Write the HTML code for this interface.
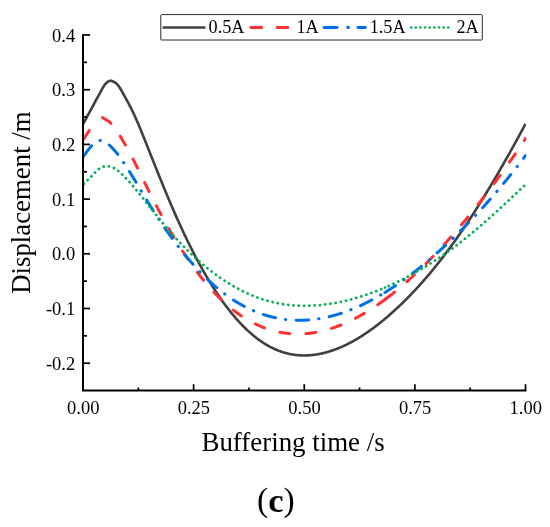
<!DOCTYPE html>
<html><head><meta charset="utf-8"><title>Figure (c)</title>
<style>
html,body{margin:0;padding:0;background:#fff;}
body{width:550px;height:527px;overflow:hidden;}
svg{display:block;}
text{font-family:"Liberation Serif","Times New Roman",serif;fill:#000;}
.tick{font-size:18.5px;}
.lab{font-size:26.8px;}
.leg{font-size:18.2px;}
</style></head><body>
<svg width="550" height="527" viewBox="0 0 550 527">
<rect width="550" height="527" fill="#fff"/>

<defs><clipPath id="pa"><rect x="83" y="20" width="443.3" height="371"/></clipPath></defs>
<g fill="none" stroke-linejoin="round" stroke-linecap="round" clip-path="url(#pa)">
<path d="M83.00,124.19 L83.18,123.86 L83.74,122.85 L84.29,121.83 L84.84,120.82 L85.40,119.80 L85.95,118.78 L86.50,117.76 L87.06,116.73 L87.61,115.71 L88.16,114.69 L88.72,113.66 L89.27,112.64 L89.82,111.62 L90.38,110.60 L90.93,109.58 L91.48,108.56 L92.04,107.55 L92.59,106.53 L93.14,105.52 L93.70,104.50 L94.25,103.49 L94.80,102.47 L95.36,101.46 L95.91,100.44 L96.46,99.43 L97.02,98.41 L97.57,97.40 L98.13,96.38 L98.68,95.36 L99.23,94.34 L99.79,93.31 L100.34,92.29 L100.89,91.26 L101.45,90.23 L102.00,89.21 L102.55,88.21 L103.11,87.25 L103.66,86.33 L104.21,85.49 L104.77,84.72 L105.32,84.04 L105.87,83.43 L106.43,82.89 L106.98,82.41 L107.53,81.99 L108.09,81.62 L108.64,81.30 L109.19,81.05 L109.75,80.87 L110.30,80.78 L110.85,80.78 L111.41,80.87 L111.96,81.03 L112.51,81.25 L113.07,81.50 L113.62,81.78 L114.17,82.06 L114.73,82.37 L115.28,82.72 L115.83,83.10 L116.39,83.55 L116.94,84.06 L117.49,84.65 L118.05,85.32 L118.60,86.05 L119.15,86.85 L119.71,87.69 L120.26,88.58 L120.81,89.50 L121.37,90.45 L121.92,91.42 L122.47,92.41 L123.03,93.40 L123.58,94.39 L124.13,95.38 L124.69,96.37 L125.24,97.36 L125.79,98.36 L126.35,99.36 L126.90,100.37 L127.45,101.38 L128.01,102.40 L128.56,103.43 L129.11,104.48 L129.67,105.53 L130.22,106.60 L130.77,107.68 L131.33,108.78 L131.88,109.90 L132.43,111.03 L132.99,112.18 L133.54,113.35 L134.09,114.54 L134.65,115.74 L135.20,116.96 L135.75,118.19 L136.31,119.44 L136.86,120.70 L137.41,121.98 L137.97,123.27 L138.52,124.56 L139.07,125.87 L139.63,127.19 L140.18,128.52 L140.73,129.86 L141.29,131.21 L141.84,132.56 L142.39,133.93 L142.95,135.29 L143.50,136.67 L144.05,138.05 L144.61,139.43 L145.16,140.82 L145.71,142.21 L146.27,143.60 L146.82,145.00 L147.37,146.39 L147.93,147.79 L148.48,149.18 L149.03,150.58 L149.59,151.98 L150.14,153.37 L150.69,154.77 L151.25,156.16 L151.80,157.55 L152.35,158.94 L152.91,160.33 L153.46,161.72 L154.01,163.11 L154.57,164.50 L155.12,165.88 L155.67,167.27 L156.23,168.65 L156.78,170.03 L157.33,171.41 L157.89,172.79 L158.44,174.16 L158.99,175.53 L159.55,176.90 L160.10,178.27 L160.65,179.63 L161.21,180.99 L161.76,182.35 L162.31,183.71 L162.87,185.06 L163.42,186.41 L163.97,187.76 L164.53,189.10 L165.08,190.44 L165.63,191.78 L166.19,193.11 L166.74,194.44 L167.29,195.77 L167.85,197.09 L168.40,198.41 L168.95,199.72 L169.51,201.03 L170.06,202.33 L170.61,203.63 L171.17,204.93 L171.72,206.22 L172.27,207.51 L172.83,208.79 L173.38,210.06 L173.93,211.34 L174.49,212.60 L175.04,213.86 L175.59,215.12 L176.15,216.37 L176.70,217.61 L177.25,218.85 L177.81,220.08 L178.36,221.31 L178.91,222.53 L179.47,223.75 L180.02,224.96 L180.58,226.17 L181.13,227.37 L181.68,228.56 L182.24,229.75 L182.79,230.94 L183.34,232.12 L183.90,233.29 L184.45,234.46 L185.00,235.62 L185.56,236.78 L186.11,237.93 L186.66,239.07 L187.22,240.21 L187.77,241.35 L188.32,242.48 L188.88,243.60 L189.43,244.72 L189.98,245.83 L190.54,246.94 L191.09,248.04 L191.64,249.13 L192.20,250.22 L192.75,251.31 L193.30,252.39 L193.86,253.46 L194.41,254.53 L194.96,255.59 L195.52,256.65 L196.07,257.70 L196.62,258.74 L197.18,259.78 L197.73,260.82 L198.28,261.84 L198.84,262.87 L199.39,263.88 L199.94,264.89 L200.50,265.90 L201.05,266.90 L201.60,267.89 L202.16,268.88 L202.71,269.86 L203.26,270.84 L203.82,271.81 L204.37,272.78 L204.92,273.74 L205.48,274.69 L206.03,275.64 L206.58,276.58 L207.14,277.52 L207.69,278.45 L208.24,279.38 L208.80,280.30 L209.35,281.21 L209.90,282.12 L210.46,283.02 L211.01,283.92 L211.56,284.81 L212.12,285.70 L212.67,286.58 L213.22,287.45 L213.78,288.32 L214.33,289.18 L214.88,290.03 L215.44,290.88 L215.99,291.73 L216.54,292.57 L217.10,293.40 L217.65,294.23 L218.20,295.05 L218.76,295.86 L219.31,296.67 L219.86,297.48 L220.42,298.28 L220.97,299.07 L221.52,299.86 L222.08,300.64 L222.63,301.41 L223.18,302.18 L223.74,302.94 L224.29,303.70 L224.84,304.45 L225.40,305.20 L225.95,305.94 L226.50,306.67 L227.06,307.40 L227.61,308.13 L228.16,308.84 L228.72,309.56 L229.27,310.26 L229.82,310.96 L230.38,311.66 L230.93,312.35 L231.48,313.03 L232.04,313.71 L232.59,314.38 L233.14,315.04 L233.70,315.70 L234.25,316.36 L234.80,317.01 L235.36,317.65 L235.91,318.29 L236.46,318.92 L237.02,319.55 L237.57,320.17 L238.12,320.78 L238.68,321.39 L239.23,322.00 L239.78,322.59 L240.34,323.19 L240.89,323.77 L241.44,324.35 L242.00,324.93 L242.55,325.50 L243.10,326.06 L243.66,326.62 L244.21,327.17 L244.76,327.72 L245.32,328.26 L245.87,328.80 L246.42,329.33 L246.98,329.85 L247.53,330.37 L248.08,330.89 L248.64,331.39 L249.19,331.90 L249.74,332.39 L250.30,332.88 L250.85,333.37 L251.40,333.85 L251.96,334.33 L252.51,334.79 L253.06,335.26 L253.62,335.72 L254.17,336.17 L254.72,336.61 L255.28,337.06 L255.83,337.49 L256.38,337.92 L256.94,338.35 L257.49,338.76 L258.04,339.18 L258.60,339.59 L259.15,339.99 L259.70,340.39 L260.26,340.78 L260.81,341.16 L261.36,341.54 L261.92,341.92 L262.47,342.29 L263.03,342.65 L263.58,343.01 L264.13,343.36 L264.69,343.71 L265.24,344.05 L265.79,344.39 L266.35,344.72 L266.90,345.04 L267.45,345.36 L268.01,345.68 L268.56,345.99 L269.11,346.29 L269.67,346.59 L270.22,346.89 L270.77,347.17 L271.33,347.46 L271.88,347.73 L272.43,348.01 L272.99,348.27 L273.54,348.53 L274.09,348.79 L274.65,349.04 L275.20,349.29 L275.75,349.53 L276.31,349.77 L276.86,350.00 L277.41,350.22 L277.97,350.44 L278.52,350.66 L279.07,350.87 L279.63,351.08 L280.18,351.28 L280.73,351.47 L281.29,351.66 L281.84,351.85 L282.39,352.03 L282.95,352.21 L283.50,352.38 L284.05,352.54 L284.61,352.71 L285.16,352.86 L285.71,353.01 L286.27,353.16 L286.82,353.30 L287.37,353.44 L287.93,353.58 L288.48,353.70 L289.03,353.83 L289.59,353.95 L290.14,354.06 L290.69,354.17 L291.25,354.27 L291.80,354.37 L292.35,354.47 L292.91,354.56 L293.46,354.65 L294.01,354.73 L294.57,354.81 L295.12,354.88 L295.67,354.95 L296.23,355.01 L296.78,355.07 L297.33,355.13 L297.89,355.18 L298.44,355.23 L298.99,355.27 L299.55,355.31 L300.10,355.34 L300.65,355.37 L301.21,355.40 L301.76,355.42 L302.31,355.43 L302.87,355.45 L303.42,355.45 L303.97,355.46 L304.53,355.46 L305.08,355.45 L305.63,355.44 L306.19,355.43 L306.74,355.42 L307.29,355.39 L307.85,355.37 L308.40,355.34 L308.95,355.31 L309.51,355.27 L310.06,355.23 L310.61,355.19 L311.17,355.14 L311.72,355.08 L312.27,355.03 L312.83,354.97 L313.38,354.90 L313.93,354.83 L314.49,354.76 L315.04,354.69 L315.59,354.61 L316.15,354.52 L316.70,354.44 L317.25,354.34 L317.81,354.25 L318.36,354.15 L318.91,354.05 L319.47,353.94 L320.02,353.83 L320.57,353.72 L321.13,353.61 L321.68,353.48 L322.23,353.36 L322.79,353.23 L323.34,353.10 L323.89,352.97 L324.45,352.83 L325.00,352.69 L325.55,352.54 L326.11,352.40 L326.66,352.24 L327.21,352.09 L327.77,351.93 L328.32,351.77 L328.87,351.60 L329.43,351.43 L329.98,351.26 L330.53,351.09 L331.09,350.91 L331.64,350.73 L332.19,350.54 L332.75,350.35 L333.30,350.16 L333.85,349.96 L334.41,349.76 L334.96,349.56 L335.51,349.36 L336.07,349.15 L336.62,348.94 L337.17,348.72 L337.73,348.50 L338.28,348.28 L338.83,348.05 L339.39,347.83 L339.94,347.59 L340.49,347.36 L341.05,347.12 L341.60,346.88 L342.15,346.64 L342.71,346.39 L343.26,346.14 L343.81,345.88 L344.37,345.63 L344.92,345.37 L345.47,345.10 L346.03,344.84 L346.58,344.57 L347.14,344.30 L347.69,344.02 L348.24,343.74 L348.80,343.46 L349.35,343.18 L349.90,342.89 L350.46,342.60 L351.01,342.30 L351.56,342.01 L352.12,341.71 L352.67,341.40 L353.22,341.10 L353.78,340.79 L354.33,340.48 L354.88,340.16 L355.44,339.84 L355.99,339.52 L356.54,339.20 L357.10,338.87 L357.65,338.54 L358.20,338.21 L358.76,337.88 L359.31,337.54 L359.86,337.20 L360.42,336.85 L360.97,336.51 L361.52,336.16 L362.08,335.80 L362.63,335.45 L363.18,335.09 L363.74,334.73 L364.29,334.37 L364.84,334.00 L365.40,333.63 L365.95,333.26 L366.50,332.88 L367.06,332.51 L367.61,332.13 L368.16,331.74 L368.72,331.36 L369.27,330.97 L369.82,330.58 L370.38,330.18 L370.93,329.79 L371.48,329.39 L372.04,328.99 L372.59,328.58 L373.14,328.17 L373.70,327.76 L374.25,327.35 L374.80,326.94 L375.36,326.52 L375.91,326.10 L376.46,325.67 L377.02,325.25 L377.57,324.82 L378.12,324.39 L378.68,323.96 L379.23,323.52 L379.78,323.08 L380.34,322.64 L380.89,322.20 L381.44,321.75 L382.00,321.31 L382.55,320.85 L383.10,320.40 L383.66,319.95 L384.21,319.49 L384.76,319.03 L385.32,318.56 L385.87,318.10 L386.42,317.63 L386.98,317.16 L387.53,316.69 L388.08,316.21 L388.64,315.73 L389.19,315.25 L389.74,314.77 L390.30,314.29 L390.85,313.80 L391.40,313.31 L391.96,312.82 L392.51,312.32 L393.06,311.83 L393.62,311.33 L394.17,310.83 L394.72,310.32 L395.28,309.82 L395.83,309.31 L396.38,308.80 L396.94,308.29 L397.49,307.77 L398.04,307.25 L398.60,306.73 L399.15,306.21 L399.70,305.68 L400.26,305.16 L400.81,304.63 L401.36,304.10 L401.92,303.56 L402.47,303.02 L403.02,302.48 L403.58,301.94 L404.13,301.40 L404.68,300.85 L405.24,300.30 L405.79,299.75 L406.34,299.20 L406.90,298.64 L407.45,298.08 L408.00,297.52 L408.56,296.96 L409.11,296.39 L409.66,295.82 L410.22,295.25 L410.77,294.68 L411.32,294.10 L411.88,293.53 L412.43,292.95 L412.98,292.36 L413.54,291.78 L414.09,291.19 L414.64,290.60 L415.20,290.01 L415.75,289.41 L416.30,288.81 L416.86,288.21 L417.41,287.61 L417.96,287.00 L418.52,286.40 L419.07,285.79 L419.62,285.17 L420.18,284.56 L420.73,283.94 L421.28,283.32 L421.84,282.70 L422.39,282.07 L422.94,281.45 L423.50,280.82 L424.05,280.19 L424.60,279.55 L425.16,278.91 L425.71,278.27 L426.26,277.63 L426.82,276.99 L427.37,276.34 L427.92,275.69 L428.48,275.04 L429.03,274.38 L429.59,273.72 L430.14,273.06 L430.69,272.40 L431.25,271.74 L431.80,271.07 L432.35,270.40 L432.91,269.73 L433.46,269.05 L434.01,268.37 L434.57,267.69 L435.12,267.01 L435.67,266.33 L436.23,265.64 L436.78,264.95 L437.33,264.26 L437.89,263.56 L438.44,262.86 L438.99,262.16 L439.55,261.46 L440.10,260.75 L440.65,260.05 L441.21,259.34 L441.76,258.62 L442.31,257.91 L442.87,257.19 L443.42,256.47 L443.97,255.74 L444.53,255.02 L445.08,254.29 L445.63,253.56 L446.19,252.83 L446.74,252.09 L447.29,251.35 L447.85,250.61 L448.40,249.86 L448.95,249.12 L449.51,248.37 L450.06,247.62 L450.61,246.86 L451.17,246.11 L451.72,245.35 L452.27,244.58 L452.83,243.82 L453.38,243.05 L453.93,242.28 L454.49,241.51 L455.04,240.73 L455.59,239.96 L456.15,239.18 L456.70,238.39 L457.25,237.61 L457.81,236.82 L458.36,236.03 L458.91,235.23 L459.47,234.44 L460.02,233.64 L460.57,232.84 L461.13,232.04 L461.68,231.23 L462.23,230.42 L462.79,229.61 L463.34,228.80 L463.89,227.98 L464.45,227.16 L465.00,226.34 L465.55,225.52 L466.11,224.69 L466.66,223.86 L467.21,223.03 L467.77,222.20 L468.32,221.37 L468.87,220.53 L469.43,219.69 L469.98,218.85 L470.53,218.00 L471.09,217.15 L471.64,216.30 L472.19,215.45 L472.75,214.60 L473.30,213.74 L473.85,212.88 L474.41,212.02 L474.96,211.16 L475.51,210.29 L476.07,209.42 L476.62,208.55 L477.17,207.68 L477.73,206.81 L478.28,205.93 L478.83,205.05 L479.39,204.17 L479.94,203.28 L480.49,202.40 L481.05,201.51 L481.60,200.62 L482.15,199.73 L482.71,198.83 L483.26,197.94 L483.81,197.04 L484.37,196.14 L484.92,195.23 L485.47,194.33 L486.03,193.42 L486.58,192.51 L487.13,191.60 L487.69,190.69 L488.24,189.77 L488.79,188.86 L489.35,187.94 L489.90,187.01 L490.45,186.09 L491.01,185.16 L491.56,184.24 L492.11,183.31 L492.67,182.38 L493.22,181.44 L493.77,180.51 L494.33,179.57 L494.88,178.63 L495.43,177.69 L495.99,176.74 L496.54,175.80 L497.09,174.85 L497.65,173.90 L498.20,172.95 L498.75,172.00 L499.31,171.04 L499.86,170.09 L500.41,169.13 L500.97,168.17 L501.52,167.21 L502.07,166.24 L502.63,165.28 L503.18,164.31 L503.73,163.34 L504.29,162.37 L504.84,161.39 L505.39,160.42 L505.95,159.44 L506.50,158.46 L507.05,157.48 L507.61,156.50 L508.16,155.52 L508.71,154.53 L509.27,153.55 L509.82,152.56 L510.37,151.57 L510.93,150.58 L511.48,149.58 L512.04,148.59 L512.59,147.59 L513.14,146.59 L513.70,145.59 L514.25,144.59 L514.80,143.59 L515.36,142.58 L515.91,141.57 L516.46,140.57 L517.02,139.56 L517.57,138.54 L518.12,137.53 L518.68,136.52 L519.23,135.50 L519.78,134.48 L520.34,133.46 L520.89,132.44 L521.44,131.42 L522.00,130.40 L522.55,129.37 L523.10,128.35 L523.66,127.32 L524.21,126.29 L524.76,125.26 L525.32,124.22 L525.50,123.88" stroke="#404040" stroke-width="2.6" stroke-linecap="butt"/>
<path d="M83.00,140.28 L83.18,139.95 L83.74,139.00 L84.29,138.09 L84.84,137.19 L85.40,136.32 L85.95,135.47 L86.50,134.63 L87.06,133.79 L87.61,132.96 L88.16,132.14 L88.72,131.30 L89.27,130.46 L89.82,129.61 L90.38,128.74 L90.93,127.85 L91.48,126.96 L92.04,126.07 L92.59,125.18 L93.14,124.31 L93.70,123.46 L94.25,122.64 L94.80,121.85 L95.36,121.10 L95.91,120.39 L96.46,119.74 L97.02,119.15 L97.57,118.63 L98.13,118.18 L98.68,117.80 L99.23,117.50 L99.79,117.29 L100.34,117.17 L100.89,117.14 L101.45,117.21 L102.00,117.38 L102.55,117.61 L103.11,117.90 L103.66,118.23 L104.21,118.57 L104.77,118.92 L105.32,119.26 L105.87,119.60 L106.43,119.94 L106.98,120.28 L107.53,120.61 L108.09,120.96 L108.64,121.33 L109.19,121.73 L109.75,122.19 L110.30,122.72 L110.85,123.33 L111.41,124.02 L111.96,124.76 L112.51,125.53 L113.07,126.31 L113.62,127.08 L114.17,127.81 L114.73,128.53 L115.28,129.23 L115.83,129.94 L116.39,130.65 L116.94,131.38 L117.49,132.14 L118.05,132.92 L118.60,133.74 L119.15,134.57 L119.71,135.43 L120.26,136.30 L120.81,137.20 L121.37,138.10 L121.92,139.02 L122.47,139.96 L123.03,140.90 L123.58,141.84 L124.13,142.80 L124.69,143.76 L125.24,144.72 L125.79,145.70 L126.35,146.68 L126.90,147.66 L127.45,148.66 L128.01,149.66 L128.56,150.67 L129.11,151.68 L129.67,152.71 L130.22,153.74 L130.77,154.78 L131.33,155.82 L131.88,156.87 L132.43,157.93 L132.99,159.00 L133.54,160.08 L134.09,161.16 L134.65,162.25 L135.20,163.34 L135.75,164.44 L136.31,165.55 L136.86,166.66 L137.41,167.77 L137.97,168.89 L138.52,170.01 L139.07,171.13 L139.63,172.26 L140.18,173.38 L140.73,174.51 L141.29,175.65 L141.84,176.78 L142.39,177.91 L142.95,179.05 L143.50,180.18 L144.05,181.31 L144.61,182.44 L145.16,183.57 L145.71,184.70 L146.27,185.83 L146.82,186.95 L147.37,188.07 L147.93,189.19 L148.48,190.31 L149.03,191.42 L149.59,192.52 L150.14,193.63 L150.69,194.73 L151.25,195.82 L151.80,196.91 L152.35,198.00 L152.91,199.08 L153.46,200.16 L154.01,201.24 L154.57,202.31 L155.12,203.38 L155.67,204.44 L156.23,205.50 L156.78,206.56 L157.33,207.61 L157.89,208.66 L158.44,209.70 L158.99,210.74 L159.55,211.78 L160.10,212.81 L160.65,213.84 L161.21,214.86 L161.76,215.88 L162.31,216.90 L162.87,217.91 L163.42,218.92 L163.97,219.92 L164.53,220.92 L165.08,221.91 L165.63,222.90 L166.19,223.89 L166.74,224.87 L167.29,225.85 L167.85,226.82 L168.40,227.79 L168.95,228.76 L169.51,229.72 L170.06,230.68 L170.61,231.63 L171.17,232.58 L171.72,233.52 L172.27,234.46 L172.83,235.39 L173.38,236.32 L173.93,237.25 L174.49,238.17 L175.04,239.09 L175.59,240.00 L176.15,240.91 L176.70,241.81 L177.25,242.71 L177.81,243.61 L178.36,244.50 L178.91,245.38 L179.47,246.27 L180.02,247.14 L180.58,248.02 L181.13,248.88 L181.68,249.75 L182.24,250.61 L182.79,251.46 L183.34,252.31 L183.90,253.16 L184.45,254.00 L185.00,254.84 L185.56,255.67 L186.11,256.50 L186.66,257.32 L187.22,258.14 L187.77,258.95 L188.32,259.76 L188.88,260.57 L189.43,261.37 L189.98,262.16 L190.54,262.95 L191.09,263.74 L191.64,264.52 L192.20,265.30 L192.75,266.07 L193.30,266.84 L193.86,267.61 L194.41,268.36 L194.96,269.12 L195.52,269.87 L196.07,270.62 L196.62,271.36 L197.18,272.09 L197.73,272.82 L198.28,273.55 L198.84,274.27 L199.39,274.99 L199.94,275.70 L200.50,276.41 L201.05,277.12 L201.60,277.82 L202.16,278.51 L202.71,279.20 L203.26,279.89 L203.82,280.57 L204.37,281.24 L204.92,281.91 L205.48,282.58 L206.03,283.24 L206.58,283.90 L207.14,284.55 L207.69,285.20 L208.24,285.84 L208.80,286.48 L209.35,287.12 L209.90,287.74 L210.46,288.37 L211.01,288.99 L211.56,289.60 L212.12,290.21 L212.67,290.82 L213.22,291.42 L213.78,292.02 L214.33,292.61 L214.88,293.19 L215.44,293.78 L215.99,294.35 L216.54,294.92 L217.10,295.49 L217.65,296.05 L218.20,296.61 L218.76,297.17 L219.31,297.71 L219.86,298.26 L220.42,298.80 L220.97,299.33 L221.52,299.86 L222.08,300.39 L222.63,300.91 L223.18,301.43 L223.74,301.94 L224.29,302.45 L224.84,302.95 L225.40,303.45 L225.95,303.94 L226.50,304.43 L227.06,304.91 L227.61,305.39 L228.16,305.87 L228.72,306.34 L229.27,306.81 L229.82,307.27 L230.38,307.73 L230.93,308.18 L231.48,308.63 L232.04,309.07 L232.59,309.51 L233.14,309.95 L233.70,310.38 L234.25,310.81 L234.80,311.23 L235.36,311.65 L235.91,312.06 L236.46,312.47 L237.02,312.88 L237.57,313.28 L238.12,313.68 L238.68,314.07 L239.23,314.46 L239.78,314.84 L240.34,315.22 L240.89,315.60 L241.44,315.97 L242.00,316.34 L242.55,316.70 L243.10,317.06 L243.66,317.42 L244.21,317.77 L244.76,318.11 L245.32,318.46 L245.87,318.79 L246.42,319.13 L246.98,319.46 L247.53,319.79 L248.08,320.11 L248.64,320.43 L249.19,320.74 L249.74,321.05 L250.30,321.36 L250.85,321.66 L251.40,321.96 L251.96,322.25 L252.51,322.54 L253.06,322.83 L253.62,323.11 L254.17,323.39 L254.72,323.67 L255.28,323.94 L255.83,324.20 L256.38,324.47 L256.94,324.73 L257.49,324.98 L258.04,325.23 L258.60,325.48 L259.15,325.73 L259.70,325.97 L260.26,326.20 L260.81,326.44 L261.36,326.66 L261.92,326.89 L262.47,327.11 L263.03,327.33 L263.58,327.54 L264.13,327.75 L264.69,327.96 L265.24,328.16 L265.79,328.36 L266.35,328.56 L266.90,328.75 L267.45,328.94 L268.01,329.12 L268.56,329.31 L269.11,329.48 L269.67,329.66 L270.22,329.83 L270.77,330.00 L271.33,330.16 L271.88,330.32 L272.43,330.48 L272.99,330.63 L273.54,330.78 L274.09,330.92 L274.65,331.06 L275.20,331.20 L275.75,331.34 L276.31,331.47 L276.86,331.60 L277.41,331.72 L277.97,331.84 L278.52,331.96 L279.07,332.08 L279.63,332.19 L280.18,332.29 L280.73,332.40 L281.29,332.50 L281.84,332.60 L282.39,332.69 L282.95,332.78 L283.50,332.87 L284.05,332.95 L284.61,333.03 L285.16,333.11 L285.71,333.18 L286.27,333.25 L286.82,333.32 L287.37,333.38 L287.93,333.44 L288.48,333.50 L289.03,333.55 L289.59,333.60 L290.14,333.65 L290.69,333.69 L291.25,333.73 L291.80,333.77 L292.35,333.80 L292.91,333.83 L293.46,333.86 L294.01,333.88 L294.57,333.90 L295.12,333.92 L295.67,333.93 L296.23,333.95 L296.78,333.95 L297.33,333.96 L297.89,333.96 L298.44,333.96 L298.99,333.95 L299.55,333.94 L300.10,333.93 L300.65,333.92 L301.21,333.90 L301.76,333.88 L302.31,333.86 L302.87,333.83 L303.42,333.80 L303.97,333.77 L304.53,333.73 L305.08,333.69 L305.63,333.65 L306.19,333.61 L306.74,333.56 L307.29,333.51 L307.85,333.45 L308.40,333.39 L308.95,333.33 L309.51,333.27 L310.06,333.20 L310.61,333.13 L311.17,333.06 L311.72,332.99 L312.27,332.91 L312.83,332.83 L313.38,332.74 L313.93,332.66 L314.49,332.56 L315.04,332.47 L315.59,332.38 L316.15,332.28 L316.70,332.18 L317.25,332.07 L317.81,331.96 L318.36,331.85 L318.91,331.74 L319.47,331.62 L320.02,331.50 L320.57,331.38 L321.13,331.26 L321.68,331.13 L322.23,331.00 L322.79,330.87 L323.34,330.73 L323.89,330.59 L324.45,330.45 L325.00,330.30 L325.55,330.16 L326.11,330.01 L326.66,329.85 L327.21,329.70 L327.77,329.54 L328.32,329.38 L328.87,329.22 L329.43,329.05 L329.98,328.88 L330.53,328.71 L331.09,328.53 L331.64,328.36 L332.19,328.18 L332.75,327.99 L333.30,327.81 L333.85,327.62 L334.41,327.43 L334.96,327.24 L335.51,327.04 L336.07,326.84 L336.62,326.64 L337.17,326.44 L337.73,326.23 L338.28,326.02 L338.83,325.81 L339.39,325.59 L339.94,325.38 L340.49,325.16 L341.05,324.93 L341.60,324.71 L342.15,324.48 L342.71,324.25 L343.26,324.02 L343.81,323.78 L344.37,323.55 L344.92,323.31 L345.47,323.06 L346.03,322.82 L346.58,322.57 L347.14,322.32 L347.69,322.07 L348.24,321.81 L348.80,321.55 L349.35,321.29 L349.90,321.03 L350.46,320.76 L351.01,320.49 L351.56,320.22 L352.12,319.95 L352.67,319.67 L353.22,319.40 L353.78,319.12 L354.33,318.83 L354.88,318.55 L355.44,318.26 L355.99,317.97 L356.54,317.68 L357.10,317.38 L357.65,317.08 L358.20,316.78 L358.76,316.48 L359.31,316.18 L359.86,315.87 L360.42,315.56 L360.97,315.25 L361.52,314.93 L362.08,314.62 L362.63,314.30 L363.18,313.98 L363.74,313.65 L364.29,313.33 L364.84,313.00 L365.40,312.67 L365.95,312.33 L366.50,312.00 L367.06,311.66 L367.61,311.32 L368.16,310.98 L368.72,310.63 L369.27,310.29 L369.82,309.94 L370.38,309.59 L370.93,309.23 L371.48,308.88 L372.04,308.52 L372.59,308.16 L373.14,307.80 L373.70,307.43 L374.25,307.06 L374.80,306.69 L375.36,306.32 L375.91,305.95 L376.46,305.57 L377.02,305.19 L377.57,304.81 L378.12,304.43 L378.68,304.05 L379.23,303.66 L379.78,303.27 L380.34,302.88 L380.89,302.48 L381.44,302.09 L382.00,301.69 L382.55,301.29 L383.10,300.89 L383.66,300.48 L384.21,300.08 L384.76,299.67 L385.32,299.26 L385.41,299.19" stroke="#ff3030" stroke-width="3.0" stroke-dasharray="11.50 20.20 10.00 16.10 10.00 16.10 10.00 16.10 10.00 16.10 10.00 16.10 10.00 16.10 10.00 16.10 10.00 16.10 10.00 16.10 10.00 16.10 10.00 16.10 10.00 16.10 10.00 16.10 10.00 16.10 10.00 16.10 9.40 50.00"/>
<path d="M385.41,299.19 L385.50,299.12 L386.05,298.71 L386.61,298.29 L387.16,297.87 L387.71,297.45 L388.27,297.03 L388.82,296.61 L389.37,296.18 L389.93,295.75 L390.48,295.32 L391.03,294.89 L391.59,294.46 L392.14,294.02 L392.69,293.58 L393.25,293.14 L393.80,292.70 L394.35,292.26 L394.91,291.81 L395.46,291.36 L396.01,290.91 L396.57,290.46 L397.12,290.00 L397.67,289.55 L398.23,289.09 L398.78,288.63 L399.33,288.17 L399.89,287.70 L400.44,287.24 L400.99,286.77 L401.55,286.30 L402.10,285.83 L402.66,285.35 L403.21,284.88 L403.76,284.40 L404.32,283.92 L404.87,283.44 L405.42,282.95 L405.98,282.47 L406.53,281.98 L407.08,281.49 L407.64,281.00 L408.19,280.51 L408.74,280.01 L409.30,279.51 L409.85,279.01 L410.40,278.51 L410.96,278.01 L411.51,277.51 L412.06,277.00 L412.62,276.49 L413.17,275.98 L413.72,275.47 L414.28,274.96 L414.83,274.44 L415.38,273.92 L415.94,273.40 L416.49,272.88 L417.04,272.36 L417.60,271.83 L418.15,271.31 L418.70,270.78 L419.26,270.25 L419.81,269.72 L420.36,269.18 L420.92,268.65 L421.47,268.11 L422.02,267.57 L422.58,267.03 L423.13,266.49 L423.68,265.94 L424.24,265.39 L424.79,264.85 L425.34,264.30 L425.90,263.75 L426.45,263.19 L427.00,262.64 L427.56,262.08 L428.11,261.52 L428.66,260.96 L429.22,260.40 L429.77,259.84 L430.32,259.27 L430.88,258.70 L431.43,258.13 L431.98,257.56 L432.54,256.99 L433.09,256.42 L433.64,255.84 L434.20,255.26 L434.75,254.69 L435.30,254.11 L435.86,253.52 L436.41,252.94 L436.96,252.35 L437.52,251.77 L438.07,251.18 L438.62,250.59 L439.18,250.00 L439.73,249.40 L440.28,248.81 L440.84,248.21 L441.39,247.61 L441.94,247.01 L442.50,246.41 L443.05,245.81 L443.60,245.20 L444.16,244.59 L444.71,243.99 L445.26,243.38 L445.82,242.76 L446.37,242.15 L446.92,241.54 L447.48,240.92 L448.03,240.30 L448.58,239.68 L449.14,239.06 L449.69,238.44 L450.24,237.82 L450.80,237.19 L451.35,236.57 L451.90,235.94 L452.46,235.31 L453.01,234.68 L453.56,234.04 L454.12,233.41 L454.67,232.77 L455.22,232.14 L455.78,231.50 L456.33,230.86 L456.88,230.21 L457.44,229.57 L457.99,228.93 L458.54,228.28 L459.10,227.63 L459.65,226.98 L460.20,226.33 L460.76,225.68 L461.31,225.03 L461.86,224.37 L462.42,223.71 L462.97,223.06 L463.52,222.40 L464.08,221.73 L464.63,221.07 L465.18,220.41 L465.74,219.74 L466.29,219.07 L466.84,218.40 L467.40,217.73 L467.95,217.06 L468.50,216.39 L469.06,215.71 L469.61,215.04 L470.16,214.36 L470.72,213.68 L471.27,213.00 L471.82,212.32 L472.38,211.63 L472.93,210.95 L473.48,210.26 L474.04,209.57 L474.59,208.88 L475.14,208.19 L475.70,207.49 L476.25,206.80 L476.80,206.10 L477.36,205.40 L477.91,204.71 L478.46,204.00 L479.02,203.30 L479.57,202.60 L480.12,201.89 L480.68,201.18 L481.23,200.48 L481.78,199.77 L482.34,199.05 L482.89,198.34 L483.44,197.63 L484.00,196.91 L484.55,196.19 L485.11,195.47 L485.66,194.75 L486.21,194.03 L486.77,193.30 L487.32,192.58 L487.87,191.85 L488.43,191.12 L488.98,190.39 L489.53,189.66 L490.09,188.92 L490.64,188.19 L491.19,187.45 L491.75,186.71 L492.30,185.97 L492.85,185.23 L493.41,184.49 L493.96,183.74 L494.51,183.00 L495.07,182.25 L495.62,181.50 L496.17,180.75 L496.73,180.00 L497.28,179.24 L497.83,178.49 L498.39,177.73 L498.94,176.97 L499.49,176.21 L500.05,175.45 L500.60,174.68 L501.15,173.92 L501.71,173.15 L502.26,172.38 L502.81,171.61 L503.37,170.84 L503.92,170.07 L504.47,169.29 L505.03,168.52 L505.58,167.74 L506.13,166.96 L506.69,166.18 L507.24,165.39 L507.79,164.61 L508.35,163.82 L508.90,163.04 L509.45,162.25 L510.01,161.46 L510.56,160.66 L511.11,159.87 L511.67,159.07 L512.22,158.28 L512.77,157.48 L513.33,156.68 L513.88,155.87 L514.43,155.07 L514.99,154.27 L515.54,153.46 L516.09,152.65 L516.65,151.84 L517.20,151.03 L517.75,150.21 L518.31,149.40 L518.86,148.58 L519.41,147.76 L519.97,146.94 L520.52,146.12 L521.07,145.30 L521.63,144.47 L522.18,143.65 L522.73,142.82 L523.29,141.99 L523.84,141.16 L524.39,140.32 L524.95,139.49 L525.50,138.65" stroke="#ff3030" stroke-width="3.0" stroke-dasharray="11.50 16.30 10.00 16.30 10.00 16.30 10.00 16.30 10.00 16.30 10.00 16.30 10.00 16.30 10.00 16.30 2.12 50.00"/>
<path d="M83.00,156.96 L83.18,156.72 L83.74,155.98 L84.29,155.24 L84.84,154.48 L85.40,153.73 L85.95,152.97 L86.50,152.22 L87.06,151.47 L87.61,150.73 L88.16,150.00 L88.72,149.28 L89.27,148.58 L89.82,147.90 L90.38,147.25 L90.93,146.61 L91.48,146.01 L92.04,145.43 L92.59,144.87 L93.14,144.35 L93.70,143.85 L94.25,143.38 L94.80,142.94 L95.36,142.52 L95.91,142.14 L96.46,141.80 L97.02,141.48 L97.57,141.21 L98.13,140.97 L98.68,140.77 L99.23,140.62 L99.79,140.52 L100.34,140.47 L100.89,140.47 L101.45,140.53 L102.00,140.64 L102.55,140.80 L103.11,141.00 L103.66,141.22 L104.21,141.48 L104.77,141.76 L105.32,142.06 L105.87,142.38 L106.43,142.73 L106.98,143.11 L107.53,143.52 L108.09,143.96 L108.64,144.44 L109.19,144.94 L109.75,145.46 L110.30,146.00 L110.85,146.56 L111.41,147.12 L111.96,147.70 L112.51,148.28 L113.07,148.87 L113.62,149.47 L114.17,150.07 L114.73,150.67 L115.28,151.29 L115.83,151.92 L116.39,152.56 L116.94,153.23 L117.49,153.91 L118.05,154.61 L118.60,155.34 L119.15,156.08 L119.71,156.83 L120.26,157.60 L120.81,158.39 L121.37,159.18 L121.92,159.99 L122.47,160.80 L123.03,161.62 L123.58,162.45 L124.13,163.29 L124.69,164.13 L125.24,164.97 L125.79,165.82 L126.35,166.68 L126.90,167.54 L127.45,168.41 L128.01,169.28 L128.56,170.16 L129.11,171.04 L129.67,171.92 L130.22,172.81 L130.77,173.70 L131.33,174.60 L131.88,175.50 L132.43,176.40 L132.99,177.31 L133.54,178.22 L134.09,179.13 L134.65,180.05 L135.20,180.97 L135.75,181.89 L136.31,182.81 L136.86,183.73 L137.41,184.66 L137.97,185.58 L138.52,186.51 L139.07,187.44 L139.63,188.36 L140.18,189.29 L140.73,190.22 L141.29,191.15 L141.84,192.07 L142.39,193.00 L142.95,193.92 L143.50,194.85 L144.05,195.77 L144.61,196.69 L145.16,197.61 L145.71,198.52 L146.27,199.44 L146.82,200.35 L147.37,201.25 L147.93,202.16 L148.48,203.06 L149.03,203.96 L149.59,204.85 L150.14,205.74 L150.69,206.63 L151.25,207.51 L151.80,208.39 L152.35,209.26 L152.91,210.14 L153.46,211.00 L154.01,211.87 L154.57,212.73 L155.12,213.59 L155.67,214.44 L156.23,215.29 L156.78,216.14 L157.33,216.99 L157.89,217.83 L158.44,218.66 L158.99,219.50 L159.55,220.33 L160.10,221.16 L160.65,221.98 L161.21,222.80 L161.76,223.62 L162.31,224.43 L162.87,225.24 L163.42,226.05 L163.97,226.85 L164.53,227.65 L165.08,228.44 L165.63,229.24 L166.19,230.03 L166.74,230.81 L167.29,231.59 L167.85,232.37 L168.40,233.15 L168.95,233.92 L169.51,234.69 L170.06,235.46 L170.61,236.22 L171.17,236.98 L171.72,237.73 L172.27,238.49 L172.83,239.24 L173.38,239.98 L173.93,240.72 L174.49,241.46 L175.04,242.20 L175.59,242.93 L176.15,243.66 L176.70,244.39 L177.25,245.11 L177.81,245.83 L178.36,246.54 L178.91,247.26 L179.47,247.96 L180.02,248.67 L180.58,249.37 L181.13,250.07 L181.68,250.77 L182.24,251.46 L182.79,252.15 L183.34,252.83 L183.90,253.52 L184.45,254.19 L185.00,254.87 L185.56,255.54 L186.11,256.21 L186.66,256.87 L187.22,257.54 L187.77,258.19 L188.32,258.85 L188.88,259.50 L189.43,260.15 L189.98,260.79 L190.54,261.43 L191.09,262.07 L191.64,262.70 L192.20,263.33 L192.75,263.96 L193.30,264.58 L193.86,265.20 L194.41,265.82 L194.96,266.43 L195.52,267.04 L196.07,267.64 L196.62,268.25 L197.18,268.84 L197.73,269.44 L198.28,270.03 L198.84,270.62 L199.39,271.20 L199.94,271.78 L200.50,272.36 L201.05,272.93 L201.60,273.50 L202.16,274.07 L202.71,274.63 L203.26,275.19 L203.82,275.74 L204.37,276.29 L204.92,276.84 L205.48,277.38 L206.03,277.92 L206.58,278.46 L207.14,278.99 L207.69,279.52 L208.24,280.05 L208.80,280.57 L209.35,281.09 L209.90,281.60 L210.46,282.11 L211.01,282.62 L211.56,283.12 L212.12,283.62 L212.67,284.12 L213.22,284.61 L213.78,285.10 L214.33,285.58 L214.88,286.06 L215.44,286.54 L215.99,287.01 L216.54,287.48 L217.10,287.94 L217.65,288.41 L218.20,288.86 L218.76,289.32 L219.31,289.77 L219.86,290.21 L220.42,290.66 L220.97,291.10 L221.52,291.53 L222.08,291.96 L222.63,292.39 L223.18,292.82 L223.74,293.24 L224.29,293.65 L224.84,294.07 L225.40,294.48 L225.95,294.88 L226.50,295.29 L227.06,295.68 L227.61,296.08 L228.16,296.47 L228.72,296.86 L229.27,297.25 L229.82,297.63 L230.38,298.00 L230.93,298.38 L231.48,298.75 L232.04,299.12 L232.59,299.48 L233.14,299.84 L233.70,300.20 L234.25,300.55 L234.80,300.90 L235.36,301.24 L235.91,301.59 L236.46,301.93 L237.02,302.26 L237.57,302.60 L238.12,302.92 L238.68,303.25 L239.23,303.57 L239.78,303.89 L240.34,304.21 L240.89,304.52 L241.44,304.83 L242.00,305.13 L242.55,305.43 L243.10,305.73 L243.66,306.03 L244.21,306.32 L244.76,306.61 L245.32,306.90 L245.87,307.18 L246.42,307.46 L246.98,307.73 L247.53,308.01 L248.08,308.27 L248.64,308.54 L249.19,308.80 L249.74,309.06 L250.30,309.32 L250.85,309.57 L251.40,309.82 L251.96,310.07 L252.51,310.31 L253.06,310.55 L253.62,310.79 L254.17,311.03 L254.72,311.26 L255.28,311.48 L255.83,311.71 L256.38,311.93 L256.94,312.15 L257.49,312.37 L258.04,312.58 L258.60,312.79 L259.15,312.99 L259.70,313.20 L260.26,313.40 L260.81,313.59 L261.36,313.79 L261.92,313.98 L262.47,314.17 L263.03,314.35 L263.58,314.54 L264.13,314.72 L264.69,314.89 L265.24,315.07 L265.79,315.24 L266.35,315.40 L266.90,315.57 L267.45,315.73 L268.01,315.89 L268.56,316.05 L269.11,316.20 L269.67,316.35 L270.22,316.50 L270.77,316.64 L271.33,316.78 L271.88,316.92 L272.43,317.06 L272.99,317.19 L273.54,317.32 L274.09,317.45 L274.65,317.57 L275.20,317.69 L275.75,317.81 L276.31,317.93 L276.86,318.04 L277.41,318.15 L277.97,318.26 L278.52,318.36 L279.07,318.46 L279.63,318.56 L280.18,318.66 L280.73,318.75 L281.29,318.84 L281.84,318.93 L282.39,319.01 L282.95,319.09 L283.50,319.17 L284.05,319.25 L284.61,319.32 L285.16,319.39 L285.71,319.46 L286.27,319.53 L286.82,319.59 L287.37,319.65 L287.93,319.71 L288.48,319.76 L289.03,319.81 L289.59,319.86 L290.14,319.91 L290.69,319.95 L291.25,319.99 L291.80,320.03 L292.35,320.07 L292.91,320.10 L293.46,320.13 L294.01,320.16 L294.57,320.18 L295.12,320.21 L295.67,320.23 L296.23,320.24 L296.78,320.26 L297.33,320.27 L297.89,320.28 L298.44,320.28 L298.99,320.29 L299.55,320.29 L300.10,320.29 L300.65,320.28 L301.21,320.28 L301.76,320.27 L302.31,320.26 L302.87,320.24 L303.42,320.22 L303.97,320.20 L304.53,320.18 L305.08,320.16 L305.63,320.13 L306.19,320.10 L306.74,320.07 L307.29,320.03 L307.85,320.00 L308.40,319.96 L308.95,319.91 L309.51,319.87 L310.06,319.82 L310.61,319.77 L311.17,319.72 L311.72,319.66 L312.27,319.60 L312.83,319.54 L313.38,319.48 L313.93,319.42 L314.49,319.35 L315.04,319.28 L315.59,319.21 L316.15,319.13 L316.70,319.05 L317.25,318.97 L317.81,318.89 L318.36,318.81 L318.91,318.72 L319.47,318.63 L320.02,318.54 L320.57,318.44 L321.13,318.35 L321.68,318.25 L322.23,318.15 L322.79,318.04 L323.34,317.93 L323.89,317.83 L324.45,317.71 L325.00,317.60 L325.55,317.48 L326.11,317.37 L326.66,317.25 L327.21,317.12 L327.77,317.00 L328.32,316.87 L328.87,316.74 L329.43,316.61 L329.98,316.47 L330.53,316.33 L331.09,316.20 L331.64,316.05 L332.19,315.91 L332.75,315.76 L333.30,315.61 L333.85,315.46 L334.41,315.31 L334.96,315.15 L335.51,315.00 L336.07,314.84 L336.62,314.67 L337.17,314.51 L337.73,314.34 L338.28,314.17 L338.83,314.00 L339.39,313.83 L339.94,313.65 L340.49,313.48 L341.05,313.30 L341.60,313.11 L342.15,312.93 L342.71,312.74 L343.26,312.55 L343.81,312.36 L344.37,312.17 L344.92,311.97 L345.47,311.78 L346.03,311.58 L346.58,311.37 L347.14,311.17 L347.69,310.96 L348.24,310.75 L348.80,310.54 L349.35,310.33 L349.90,310.12 L350.46,309.90 L351.01,309.68 L351.56,309.46 L352.12,309.24 L352.67,309.01 L353.22,308.78 L353.78,308.55 L354.33,308.32 L354.88,308.09 L355.44,307.85 L355.99,307.61 L356.54,307.37 L357.10,307.13 L357.65,306.89 L358.20,306.64 L358.76,306.39 L359.31,306.14 L359.86,305.89 L360.42,305.64 L360.97,305.38 L361.52,305.12 L362.08,304.86 L362.63,304.60 L363.18,304.33 L363.74,304.07 L364.29,303.80 L364.84,303.53 L365.40,303.26 L365.95,302.98 L366.50,302.71 L367.06,302.43 L367.61,302.15 L368.16,301.87 L368.72,301.58 L369.27,301.30 L369.82,301.01 L370.38,300.72 L370.93,300.43 L371.48,300.13 L372.04,299.84 L372.59,299.54 L373.14,299.24 L373.70,298.94 L374.25,298.64 L374.80,298.33 L375.36,298.03 L375.91,297.72 L376.46,297.41 L377.02,297.09 L377.57,296.78 L378.12,296.46 L378.68,296.15 L379.23,295.83 L379.78,295.50 L380.34,295.18 L380.89,294.86 L381.44,294.53 L382.00,294.20 L382.55,293.87 L383.10,293.54 L383.66,293.20 L384.21,292.87 L384.76,292.53 L384.80,292.50" stroke="#0070e8" stroke-width="3.0" stroke-dasharray="0.00 1.50 12.60 10.00 0.40 10.35 12.60 10.00 0.40 10.35 12.60 10.00 0.40 10.35 12.60 10.00 0.40 10.35 12.60 10.00 0.40 10.35 12.60 10.00 0.40 10.35 12.60 10.00 0.40 10.35 12.60 10.00 0.40 10.35 12.60 10.00 0.40 10.35 12.60 10.00 0.40 10.35 12.60 10.00 0.40 10.35 12.60 10.00 0.40 54.55"/>
<path d="M384.80,292.50 L384.95,292.42 L385.50,292.08 L386.05,291.73 L386.61,291.39 L387.16,291.04 L387.71,290.70 L388.27,290.35 L388.82,290.00 L389.37,289.65 L389.93,289.29 L390.48,288.94 L391.03,288.58 L391.59,288.22 L392.14,287.86 L392.69,287.50 L393.25,287.13 L393.80,286.76 L394.35,286.40 L394.91,286.03 L395.46,285.66 L396.01,285.28 L396.57,284.91 L397.12,284.53 L397.67,284.15 L398.23,283.77 L398.78,283.39 L399.33,283.01 L399.89,282.63 L400.44,282.24 L400.99,281.85 L401.55,281.46 L402.10,281.07 L402.66,280.68 L403.21,280.28 L403.76,279.89 L404.32,279.49 L404.87,279.09 L405.42,278.69 L405.98,278.28 L406.53,277.88 L407.08,277.47 L407.64,277.06 L408.19,276.66 L408.74,276.24 L409.30,275.83 L409.85,275.42 L410.40,275.00 L410.96,274.58 L411.51,274.16 L412.06,273.74 L412.62,273.32 L413.17,272.90 L413.72,272.47 L414.28,272.04 L414.83,271.61 L415.38,271.18 L415.94,270.75 L416.49,270.32 L417.04,269.88 L417.60,269.45 L418.15,269.01 L418.70,268.57 L419.26,268.13 L419.81,267.68 L420.36,267.24 L420.92,266.79 L421.47,266.34 L422.02,265.89 L422.58,265.44 L423.13,264.99 L423.68,264.53 L424.24,264.08 L424.79,263.62 L425.34,263.16 L425.90,262.70 L426.45,262.24 L427.00,261.78 L427.56,261.31 L428.11,260.84 L428.66,260.38 L429.22,259.91 L429.77,259.44 L430.32,258.96 L430.88,258.49 L431.43,258.01 L431.98,257.53 L432.54,257.06 L433.09,256.58 L433.64,256.09 L434.20,255.61 L434.75,255.13 L435.30,254.64 L435.86,254.15 L436.41,253.66 L436.96,253.17 L437.52,252.68 L438.07,252.18 L438.62,251.69 L439.18,251.19 L439.73,250.69 L440.28,250.19 L440.84,249.69 L441.39,249.19 L441.94,248.68 L442.50,248.18 L443.05,247.67 L443.60,247.16 L444.16,246.65 L444.71,246.14 L445.26,245.63 L445.82,245.11 L446.37,244.60 L446.92,244.08 L447.48,243.56 L448.03,243.04 L448.58,242.52 L449.14,241.99 L449.69,241.47 L450.24,240.94 L450.80,240.42 L451.35,239.89 L451.90,239.36 L452.46,238.82 L453.01,238.29 L453.56,237.76 L454.12,237.22 L454.67,236.68 L455.22,236.14 L455.78,235.60 L456.33,235.06 L456.88,234.52 L457.44,233.97 L457.99,233.43 L458.54,232.88 L459.10,232.33 L459.65,231.78 L460.20,231.23 L460.76,230.68 L461.31,230.12 L461.86,229.57 L462.42,229.01 L462.97,228.45 L463.52,227.89 L464.08,227.33 L464.63,226.76 L465.18,226.20 L465.74,225.63 L466.29,225.07 L466.84,224.50 L467.40,223.93 L467.95,223.36 L468.50,222.78 L469.06,222.21 L469.61,221.63 L470.16,221.05 L470.72,220.48 L471.27,219.89 L471.82,219.31 L472.38,218.73 L472.93,218.14 L473.48,217.56 L474.04,216.97 L474.59,216.38 L475.14,215.79 L475.70,215.20 L476.25,214.60 L476.80,214.01 L477.36,213.41 L477.91,212.81 L478.46,212.22 L479.02,211.61 L479.57,211.01 L480.12,210.41 L480.68,209.80 L481.23,209.20 L481.78,208.59 L482.34,207.98 L482.89,207.37 L483.44,206.75 L484.00,206.14 L484.55,205.52 L485.11,204.91 L485.66,204.29 L486.21,203.67 L486.77,203.04 L487.32,202.42 L487.87,201.80 L488.43,201.17 L488.98,200.54 L489.53,199.91 L490.09,199.28 L490.64,198.65 L491.19,198.02 L491.75,197.38 L492.30,196.74 L492.85,196.10 L493.41,195.46 L493.96,194.82 L494.51,194.18 L495.07,193.54 L495.62,192.89 L496.17,192.24 L496.73,191.59 L497.28,190.94 L497.83,190.29 L498.39,189.64 L498.94,188.98 L499.49,188.33 L500.05,187.67 L500.60,187.01 L501.15,186.35 L501.71,185.68 L502.26,185.02 L502.81,184.35 L503.37,183.69 L503.92,183.02 L504.47,182.35 L505.03,181.67 L505.58,181.00 L506.13,180.32 L506.69,179.65 L507.24,178.97 L507.79,178.29 L508.35,177.61 L508.90,176.92 L509.45,176.24 L510.01,175.55 L510.56,174.87 L511.11,174.18 L511.67,173.49 L512.22,172.79 L512.77,172.10 L513.33,171.40 L513.88,170.71 L514.43,170.01 L514.99,169.31 L515.54,168.61 L516.09,167.90 L516.65,167.20 L517.20,166.49 L517.75,165.78 L518.31,165.07 L518.86,164.36 L519.41,163.65 L519.97,162.93 L520.52,162.22 L521.07,161.50 L521.63,160.78 L522.18,160.06 L522.73,159.34 L523.29,158.61 L523.84,157.89 L524.39,157.16 L524.95,156.43 L525.50,155.70" stroke="#0070e8" stroke-width="3.0" stroke-dasharray="0.00 1.50 11.40 10.10 0.40 10.20 11.40 10.10 0.40 10.20 11.40 10.10 0.40 10.20 11.40 10.10 0.40 10.20 11.40 10.10 0.40 10.20 11.40 10.10 0.40 10.20 3.20 50.00"/>
<path d="M83.00,184.89 L83.18,184.67 L83.74,184.05 L84.29,183.44 L84.84,182.86 L85.40,182.30 L85.95,181.75 L86.50,181.21 L87.06,180.68 L87.61,180.15 L88.16,179.62 L88.72,179.09 L89.27,178.55 L89.82,178.00 L90.38,177.44 L90.93,176.86 L91.48,176.27 L92.04,175.68 L92.59,175.08 L93.14,174.48 L93.70,173.89 L94.25,173.29 L94.80,172.71 L95.36,172.13 L95.91,171.57 L96.46,171.03 L97.02,170.50 L97.57,170.00 L98.13,169.52 L98.68,169.07 L99.23,168.66 L99.79,168.28 L100.34,167.94 L100.89,167.64 L101.45,167.38 L102.00,167.17 L102.55,166.99 L103.11,166.83 L103.66,166.69 L104.21,166.56 L104.77,166.44 L105.32,166.32 L105.87,166.23 L106.43,166.15 L106.98,166.12 L107.53,166.14 L108.09,166.22 L108.64,166.34 L109.19,166.50 L109.75,166.67 L110.30,166.85 L110.85,167.02 L111.41,167.18 L111.96,167.34 L112.51,167.52 L113.07,167.71 L113.62,167.93 L114.17,168.19 L114.73,168.49 L115.28,168.81 L115.83,169.16 L116.39,169.54 L116.94,169.93 L117.49,170.35 L118.05,170.78 L118.60,171.22 L119.15,171.68 L119.71,172.16 L120.26,172.64 L120.81,173.14 L121.37,173.65 L121.92,174.17 L122.47,174.70 L123.03,175.24 L123.58,175.78 L124.13,176.34 L124.69,176.90 L125.24,177.46 L125.79,178.04 L126.35,178.62 L126.90,179.20 L127.45,179.80 L128.01,180.40 L128.56,181.00 L129.11,181.61 L129.67,182.23 L130.22,182.85 L130.77,183.48 L131.33,184.11 L131.88,184.75 L132.43,185.39 L132.99,186.03 L133.54,186.68 L134.09,187.34 L134.65,187.99 L135.20,188.65 L135.75,189.32 L136.31,189.99 L136.86,190.66 L137.41,191.33 L137.97,192.01 L138.52,192.69 L139.07,193.37 L139.63,194.06 L140.18,194.74 L140.73,195.43 L141.29,196.12 L141.84,196.82 L142.39,197.51 L142.95,198.21 L143.50,198.90 L144.05,199.60 L144.61,200.30 L145.16,201.00 L145.71,201.70 L146.27,202.40 L146.82,203.10 L147.37,203.80 L147.93,204.50 L148.48,205.20 L149.03,205.90 L149.59,206.60 L150.14,207.29 L150.69,207.99 L151.25,208.69 L151.80,209.38 L152.35,210.08 L152.91,210.77 L153.46,211.47 L154.01,212.16 L154.57,212.85 L155.12,213.54 L155.67,214.23 L156.23,214.92 L156.78,215.61 L157.33,216.30 L157.89,216.98 L158.44,217.66 L158.99,218.35 L159.55,219.03 L160.10,219.71 L160.65,220.38 L161.21,221.06 L161.76,221.73 L162.31,222.41 L162.87,223.08 L163.42,223.75 L163.97,224.41 L164.53,225.08 L165.08,225.74 L165.63,226.40 L166.19,227.06 L166.74,227.72 L167.29,228.37 L167.85,229.02 L168.40,229.67 L168.95,230.32 L169.51,230.97 L170.06,231.61 L170.61,232.25 L171.17,232.88 L171.72,233.52 L172.27,234.15 L172.83,234.78 L173.38,235.40 L173.93,236.03 L174.49,236.65 L175.04,237.26 L175.59,237.88 L176.15,238.49 L176.70,239.10 L177.25,239.70 L177.81,240.30 L178.36,240.90 L178.91,241.50 L179.47,242.09 L180.02,242.68 L180.58,243.26 L181.13,243.85 L181.68,244.43 L182.24,245.00 L182.79,245.58 L183.34,246.15 L183.90,246.72 L184.45,247.28 L185.00,247.85 L185.56,248.40 L186.11,248.96 L186.66,249.51 L187.22,250.06 L187.77,250.61 L188.32,251.16 L188.88,251.70 L189.43,252.24 L189.98,252.77 L190.54,253.30 L191.09,253.83 L191.64,254.36 L192.20,254.89 L192.75,255.41 L193.30,255.92 L193.86,256.44 L194.41,256.95 L194.96,257.46 L195.52,257.97 L196.07,258.47 L196.62,258.97 L197.18,259.47 L197.73,259.97 L198.28,260.46 L198.84,260.95 L199.39,261.44 L199.94,261.92 L200.50,262.40 L201.05,262.88 L201.60,263.35 L202.16,263.83 L202.71,264.30 L203.26,264.76 L203.82,265.23 L204.37,265.69 L204.92,266.15 L205.48,266.60 L206.03,267.06 L206.58,267.51 L207.14,267.96 L207.69,268.40 L208.24,268.84 L208.80,269.28 L209.35,269.72 L209.90,270.15 L210.46,270.58 L211.01,271.01 L211.56,271.44 L212.12,271.86 L212.67,272.28 L213.22,272.70 L213.78,273.12 L214.33,273.53 L214.88,273.94 L215.44,274.34 L215.99,274.75 L216.54,275.15 L217.10,275.55 L217.65,275.95 L218.20,276.34 L218.76,276.73 L219.31,277.12 L219.86,277.51 L220.42,277.89 L220.97,278.27 L221.52,278.65 L222.08,279.02 L222.63,279.40 L223.18,279.77 L223.74,280.13 L224.29,280.50 L224.84,280.86 L225.40,281.22 L225.95,281.58 L226.50,281.93 L227.06,282.28 L227.61,282.63 L228.16,282.98 L228.72,283.32 L229.27,283.66 L229.82,284.00 L230.38,284.33 L230.93,284.67 L231.48,285.00 L232.04,285.32 L232.59,285.65 L233.14,285.97 L233.70,286.29 L234.25,286.61 L234.80,286.92 L235.36,287.23 L235.91,287.54 L236.46,287.85 L237.02,288.15 L237.57,288.45 L238.12,288.75 L238.68,289.05 L239.23,289.34 L239.78,289.63 L240.34,289.92 L240.89,290.20 L241.44,290.48 L242.00,290.76 L242.55,291.04 L243.10,291.31 L243.66,291.59 L244.21,291.86 L244.76,292.12 L245.32,292.39 L245.87,292.65 L246.42,292.90 L246.98,293.16 L247.53,293.41 L248.08,293.66 L248.64,293.91 L249.19,294.16 L249.74,294.40 L250.30,294.64 L250.85,294.88 L251.40,295.11 L251.96,295.34 L252.51,295.57 L253.06,295.80 L253.62,296.02 L254.17,296.24 L254.72,296.46 L255.28,296.68 L255.83,296.89 L256.38,297.10 L256.94,297.31 L257.49,297.51 L258.04,297.72 L258.60,297.92 L259.15,298.11 L259.70,298.31 L260.26,298.50 L260.81,298.69 L261.36,298.88 L261.92,299.06 L262.47,299.24 L263.03,299.42 L263.58,299.60 L264.13,299.77 L264.69,299.94 L265.24,300.11 L265.79,300.28 L266.35,300.44 L266.90,300.60 L267.45,300.76 L268.01,300.91 L268.56,301.06 L269.11,301.21 L269.67,301.36 L270.22,301.51 L270.77,301.65 L271.33,301.79 L271.88,301.92 L272.43,302.06 L272.99,302.19 L273.54,302.32 L274.09,302.45 L274.65,302.57 L275.20,302.69 L275.75,302.81 L276.31,302.93 L276.86,303.04 L277.41,303.16 L277.97,303.26 L278.52,303.37 L279.07,303.48 L279.63,303.58 L280.18,303.68 L280.73,303.78 L281.29,303.87 L281.84,303.96 L282.39,304.05 L282.95,304.14 L283.50,304.23 L284.05,304.31 L284.61,304.39 L285.16,304.47 L285.71,304.54 L286.27,304.62 L286.82,304.69 L287.37,304.76 L287.93,304.82 L288.48,304.89 L289.03,304.95 L289.59,305.01 L290.14,305.07 L290.69,305.12 L291.25,305.18 L291.80,305.23 L292.35,305.27 L292.91,305.32 L293.46,305.37 L294.01,305.41 L294.57,305.45 L295.12,305.48 L295.67,305.52 L296.23,305.55 L296.78,305.58 L297.33,305.61 L297.89,305.64 L298.44,305.66 L298.99,305.69 L299.55,305.71 L300.10,305.72 L300.65,305.74 L301.21,305.75 L301.76,305.77 L302.31,305.77 L302.87,305.78 L303.42,305.79 L303.97,305.79 L304.53,305.79 L305.08,305.79 L305.63,305.79 L306.19,305.78 L306.74,305.78 L307.29,305.77 L307.85,305.76 L308.40,305.75 L308.95,305.73 L309.51,305.72 L310.06,305.70 L310.61,305.68 L311.17,305.65 L311.72,305.63 L312.27,305.60 L312.83,305.57 L313.38,305.54 L313.93,305.51 L314.49,305.48 L315.04,305.44 L315.59,305.40 L316.15,305.37 L316.70,305.32 L317.25,305.28 L317.81,305.24 L318.36,305.19 L318.91,305.14 L319.47,305.09 L320.02,305.04 L320.57,304.98 L321.13,304.93 L321.68,304.87 L322.23,304.81 L322.79,304.75 L323.34,304.68 L323.89,304.62 L324.45,304.55 L325.00,304.48 L325.55,304.41 L326.11,304.34 L326.66,304.27 L327.21,304.19 L327.77,304.12 L328.32,304.04 L328.87,303.96 L329.43,303.88 L329.98,303.79 L330.53,303.71 L331.09,303.62 L331.64,303.53 L332.19,303.44 L332.75,303.35 L333.30,303.25 L333.85,303.16 L334.41,303.06 L334.96,302.96 L335.51,302.86 L336.07,302.76 L336.62,302.66 L337.17,302.55 L337.73,302.44 L338.28,302.34 L338.83,302.22 L339.39,302.11 L339.94,302.00 L340.49,301.88 L341.05,301.77 L341.60,301.65 L342.15,301.53 L342.71,301.41 L343.26,301.28 L343.81,301.16 L344.37,301.03 L344.92,300.90 L345.47,300.77 L346.03,300.64 L346.58,300.51 L347.14,300.37 L347.69,300.24 L348.24,300.10 L348.80,299.96 L349.35,299.82 L349.90,299.68 L350.46,299.53 L351.01,299.39 L351.56,299.24 L352.12,299.09 L352.67,298.94 L353.22,298.79 L353.78,298.63 L354.33,298.48 L354.88,298.32 L355.44,298.16 L355.99,298.01 L356.54,297.84 L357.10,297.68 L357.65,297.52 L358.20,297.35 L358.76,297.18 L359.31,297.01 L359.86,296.84 L360.42,296.67 L360.97,296.50 L361.52,296.32 L362.08,296.15 L362.63,295.97 L363.18,295.79 L363.74,295.61 L364.29,295.43 L364.84,295.24 L365.40,295.06 L365.95,294.87 L366.50,294.68 L367.06,294.49 L367.61,294.30 L368.16,294.11 L368.72,293.91 L369.27,293.72 L369.82,293.52 L370.38,293.32 L370.93,293.12 L371.48,292.92 L372.04,292.72 L372.59,292.51 L373.14,292.31 L373.70,292.10 L374.25,291.89 L374.80,291.68 L375.36,291.47 L375.91,291.26 L376.46,291.04 L377.02,290.83 L377.57,290.61 L378.12,290.39 L378.68,290.17 L379.23,289.95 L379.78,289.73 L380.34,289.50 L380.89,289.28 L381.44,289.05 L382.00,288.82 L382.55,288.59 L383.10,288.36 L383.66,288.13 L384.21,287.89 L384.76,287.66 L385.00,287.56" stroke="#00b050" stroke-width="2.8" stroke-dasharray="0.00 1.40 0.01 5.28 0.01 5.28 0.01 5.28 0.01 5.28 0.01 5.28 0.01 5.28 0.01 5.28 0.01 5.28 0.01 5.28 0.01 5.28 0.01 5.28 0.01 5.28 0.01 5.28 0.01 5.28 0.01 5.28 0.01 5.28 0.01 5.28 0.01 5.28 0.01 5.28 0.01 5.28 0.01 5.28 0.01 5.28 0.01 5.28 0.01 5.28 0.01 5.28 0.01 5.28 0.01 5.28 0.01 5.28 0.01 5.28 0.01 5.28 0.01 5.28 0.01 5.28 0.01 5.28 0.01 5.28 0.01 5.28 0.01 5.28 0.01 5.28 0.01 5.28 0.01 5.28 0.01 5.28 0.01 5.28 0.01 5.28 0.01 5.28 0.01 5.28 0.01 5.28 0.01 5.28 0.01 5.28 0.01 5.28 0.01 5.28 0.01 5.28 0.01 5.28 0.01 5.28 0.01 5.28 0.01 5.28 0.01 5.28 0.01 5.28 0.01 5.28 0.01 5.28 0.01 5.28 0.01 5.28 0.01 5.28 0.01 5.28 0.01 5.28 0.01 5.28 0.01 5.28 0.01 5.28 0.01 5.28 0.01 5.28 0.01 54.15"/>
<path d="M385.00,287.56 L385.13,287.50 L385.69,287.26 L386.24,287.03 L386.79,286.78 L387.35,286.54 L387.90,286.30 L388.45,286.06 L389.01,285.81 L389.56,285.56 L390.11,285.32 L390.67,285.07 L391.22,284.81 L391.77,284.56 L392.33,284.31 L392.88,284.05 L393.43,283.80 L393.99,283.54 L394.54,283.28 L395.09,283.02 L395.65,282.76 L396.20,282.50 L396.75,282.23 L397.31,281.96 L397.86,281.70 L398.41,281.43 L398.97,281.16 L399.52,280.89 L400.07,280.62 L400.63,280.34 L401.18,280.07 L401.73,279.79 L402.29,279.51 L402.84,279.23 L403.39,278.95 L403.95,278.67 L404.50,278.39 L405.05,278.10 L405.61,277.81 L406.16,277.53 L406.71,277.24 L407.27,276.95 L407.82,276.65 L408.37,276.36 L408.93,276.07 L409.48,275.77 L410.03,275.47 L410.59,275.17 L411.14,274.87 L411.69,274.57 L412.25,274.27 L412.80,273.96 L413.35,273.66 L413.91,273.35 L414.46,273.04 L415.01,272.73 L415.57,272.42 L416.12,272.11 L416.67,271.79 L417.23,271.48 L417.78,271.16 L418.33,270.84 L418.89,270.52 L419.44,270.20 L419.99,269.88 L420.55,269.55 L421.10,269.23 L421.65,268.90 L422.21,268.57 L422.76,268.24 L423.31,267.91 L423.87,267.58 L424.42,267.24 L424.97,266.91 L425.53,266.57 L426.08,266.23 L426.63,265.89 L427.19,265.55 L427.74,265.21 L428.29,264.86 L428.85,264.52 L429.40,264.17 L429.95,263.82 L430.51,263.47 L431.06,263.12 L431.61,262.77 L432.17,262.41 L432.72,262.05 L433.27,261.70 L433.83,261.34 L434.38,260.98 L434.93,260.62 L435.49,260.25 L436.04,259.89 L436.59,259.52 L437.15,259.15 L437.70,258.78 L438.25,258.41 L438.81,258.04 L439.36,257.67 L439.91,257.29 L440.47,256.91 L441.02,256.54 L441.57,256.16 L442.13,255.77 L442.68,255.39 L443.23,255.01 L443.79,254.62 L444.34,254.23 L444.89,253.84 L445.45,253.45 L446.00,253.06 L446.55,252.67 L447.11,252.27 L447.66,251.88 L448.21,251.48 L448.77,251.08 L449.32,250.68 L449.87,250.28 L450.43,249.87 L450.98,249.47 L451.53,249.06 L452.09,248.65 L452.64,248.24 L453.19,247.83 L453.75,247.42 L454.30,247.00 L454.85,246.59 L455.41,246.17 L455.96,245.75 L456.52,245.33 L457.07,244.91 L457.62,244.48 L458.18,244.06 L458.73,243.63 L459.28,243.20 L459.84,242.77 L460.39,242.34 L460.94,241.91 L461.50,241.47 L462.05,241.04 L462.60,240.60 L463.16,240.16 L463.71,239.72 L464.26,239.28 L464.82,238.84 L465.37,238.40 L465.92,237.95 L466.48,237.51 L467.03,237.06 L467.58,236.61 L468.14,236.16 L468.69,235.71 L469.24,235.25 L469.80,234.80 L470.35,234.35 L470.90,233.89 L471.46,233.43 L472.01,232.97 L472.56,232.51 L473.12,232.05 L473.67,231.59 L474.22,231.12 L474.78,230.66 L475.33,230.19 L475.88,229.73 L476.44,229.26 L476.99,228.79 L477.54,228.32 L478.10,227.85 L478.65,227.37 L479.20,226.90 L479.76,226.43 L480.31,225.95 L480.86,225.47 L481.42,224.99 L481.97,224.52 L482.52,224.04 L483.08,223.55 L483.63,223.07 L484.18,222.59 L484.74,222.11 L485.29,221.62 L485.84,221.14 L486.40,220.65 L486.95,220.16 L487.50,219.67 L488.06,219.18 L488.61,218.69 L489.16,218.20 L489.72,217.71 L490.27,217.22 L490.82,216.72 L491.38,216.23 L491.93,215.73 L492.48,215.24 L493.04,214.74 L493.59,214.24 L494.14,213.74 L494.70,213.24 L495.25,212.74 L495.80,212.24 L496.36,211.74 L496.91,211.24 L497.46,210.74 L498.02,210.23 L498.57,209.73 L499.12,209.22 L499.68,208.72 L500.23,208.21 L500.78,207.70 L501.34,207.19 L501.89,206.69 L502.44,206.18 L503.00,205.67 L503.55,205.16 L504.10,204.65 L504.66,204.14 L505.21,203.62 L505.76,203.11 L506.32,202.60 L506.87,202.08 L507.42,201.57 L507.98,201.06 L508.53,200.54 L509.08,200.03 L509.64,199.51 L510.19,198.99 L510.74,198.48 L511.30,197.96 L511.85,197.44 L512.40,196.92 L512.96,196.40 L513.51,195.88 L514.06,195.37 L514.62,194.85 L515.17,194.33 L515.72,193.80 L516.28,193.28 L516.83,192.76 L517.38,192.24 L517.94,191.72 L518.49,191.20 L519.04,190.67 L519.60,190.15 L520.15,189.63 L520.70,189.11 L521.26,188.58 L521.81,188.06 L522.36,187.53 L522.92,187.01 L523.47,186.49 L524.02,185.96 L524.58,185.44 L525.13,184.91 L525.50,184.56" stroke="#00b050" stroke-width="2.8" stroke-dasharray="0.00 4.00 0.01 5.28 0.01 5.28 0.01 5.28 0.01 5.28 0.01 5.28 0.01 5.28 0.01 5.28 0.01 5.28 0.01 5.28 0.01 5.28 0.01 5.28 0.01 5.28 0.01 5.28 0.01 5.28 0.01 5.28 0.01 5.28 0.01 5.28 0.01 5.28 0.01 5.28 0.01 5.28 0.01 5.28 0.01 5.28 0.01 5.28 0.01 5.28 0.01 5.28 0.01 5.28 0.01 5.28 0.01 5.28 0.01 5.28 0.01 5.28 0.01 5.28 0.01 5.28 0.01 51.96"/>
</g>
<g stroke="#000" stroke-width="2" fill="none" stroke-linecap="butt">
<path d="M83,34 V390.6 H526.4"/>
</g>
<g stroke="#000" stroke-width="1.7" fill="none">
<path d="M83,363.20 H90"/>
<path d="M83,335.85 H87"/>
<path d="M83,308.50 H90"/>
<path d="M83,281.15 H87"/>
<path d="M83,253.80 H90"/>
<path d="M83,226.45 H87"/>
<path d="M83,199.10 H90"/>
<path d="M83,171.75 H87"/>
<path d="M83,144.40 H90"/>
<path d="M83,117.05 H87"/>
<path d="M83,89.70 H90"/>
<path d="M83,62.35 H87"/>
<path d="M83,35.00 H90"/>
<path d="M138.31,390.6 V387.5"/>
<path d="M193.62,390.6 V384.2"/>
<path d="M248.94,390.6 V387.5"/>
<path d="M304.25,390.6 V384.2"/>
<path d="M359.56,390.6 V387.5"/>
<path d="M414.88,390.6 V384.2"/>
<path d="M470.19,390.6 V387.5"/>
<path d="M525.50,390.6 V384.2"/>
</g>
<text class="tick" x="75.2" y="41.60" text-anchor="end">0.4</text>
<text class="tick" x="75.2" y="96.30" text-anchor="end">0.3</text>
<text class="tick" x="75.2" y="151.00" text-anchor="end">0.2</text>
<text class="tick" x="75.2" y="205.70" text-anchor="end">0.1</text>
<text class="tick" x="75.2" y="260.40" text-anchor="end">0.0</text>
<text class="tick" x="75.2" y="315.10" text-anchor="end">-0.1</text>
<text class="tick" x="75.2" y="369.80" text-anchor="end">-0.2</text>
<text class="tick" x="83.20" y="414.4" text-anchor="middle">0.00</text>
<text class="tick" x="193.82" y="414.4" text-anchor="middle">0.25</text>
<text class="tick" x="304.45" y="414.4" text-anchor="middle">0.50</text>
<text class="tick" x="415.07" y="414.4" text-anchor="middle">0.75</text>
<text class="tick" x="525.70" y="414.4" text-anchor="middle">1.00</text>
<text class="lab" x="293.1" y="451" text-anchor="middle" style="font-size:26.9px">Buffering time /s</text>
<text class="lab" transform="translate(29.6,202.6) rotate(-90)" text-anchor="middle">Displacement /m</text>
<text x="257" y="511.1" style="font-size:33.6px">(</text>
<text x="268.2" y="512.2" style="font-size:34.5px;font-weight:bold">c</text>
<text x="283.6" y="511.1" style="font-size:33.6px">)</text>
<rect x="160.8" y="14.6" width="321.5" height="25.4" rx="0.8" fill="#fff" stroke="#2a2a2a" stroke-width="1"/>
<g fill="none">
<path d="M163.7,27.5 H204.3" stroke="#404040" stroke-width="2.6" stroke-linecap="round"/>
<path d="M250.8,27.5 H261.8 M277.2,27.5 H288" stroke="#ff3030" stroke-width="2.8" stroke-linecap="round"/>
<path d="M324,27.5 H337.2 M347.6,27.5 H348.6 M357.9,27.5 H365.4" stroke="#0070e8" stroke-width="2.8" stroke-linecap="round"/>
<path d="M411.2,27.5 H449.3" stroke="#00b050" stroke-width="2.7" stroke-linecap="round" stroke-dasharray="0.01 4.62"/>
</g>
<text class="leg" x="208.6" y="33">0.5A</text>
<text class="leg" x="296.5" y="33">1A</text>
<text class="leg" x="369.7" y="33">1.5A</text>
<text class="leg" x="456.4" y="33">2A</text>
</svg></body></html>
